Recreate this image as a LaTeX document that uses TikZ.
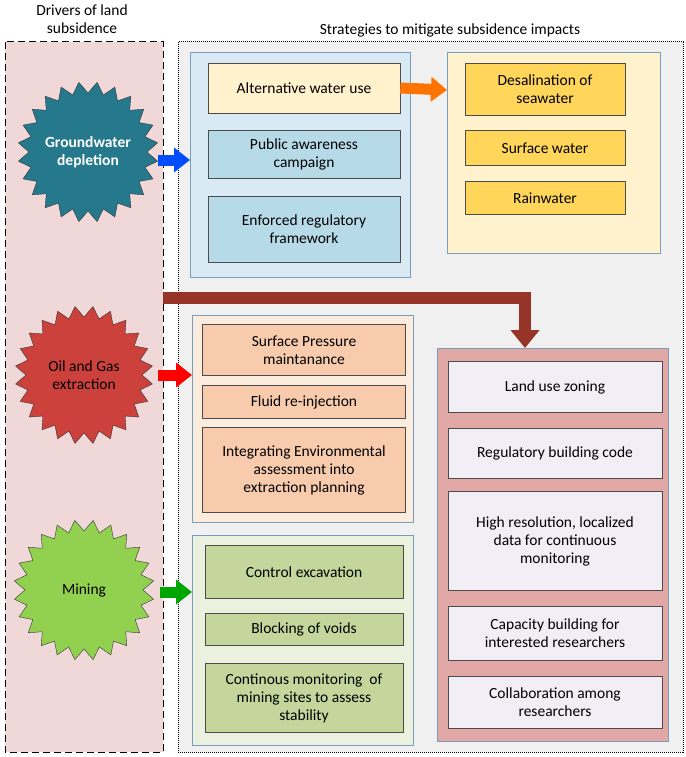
\documentclass[tikz,border=0pt]{standalone}
\usepackage{fontspec}
\setmainfont{Carlito}
\usetikzlibrary{shapes.geometric,arrows.meta}
\definecolor{drvbg}{RGB}{240,216,216}
\definecolor{stbg}{RGB}{240,240,240}
\definecolor{gwcol}{RGB}{38,120,140}
\definecolor{oilcol}{RGB}{205,65,60}
\definecolor{mincol}{RGB}{146,208,80}
\definecolor{bluebg}{RGB}{218,234,244}
\definecolor{bluebox}{RGB}{183,218,232}
\definecolor{cream}{RGB}{255,242,204}
\definecolor{gold}{RGB}{255,214,90}
\definecolor{peachbg}{RGB}{251,236,222}
\definecolor{peach}{RGB}{248,203,173}
\definecolor{greenbg}{RGB}{235,241,222}
\definecolor{greenbox}{RGB}{196,214,155}
\definecolor{rosebg}{RGB}{226,168,166}
\definecolor{lav}{RGB}{242,238,246}
\definecolor{darkred}{RGB}{150,52,40}
\definecolor{grpline}{RGB}{120,160,190}
\begin{document}
\begin{tikzpicture}[x=1pt,y=-1pt,
  font=\fontsize{15.5}{18}\selectfont,
  grp/.style={draw=grpline, line width=0.7pt},
  item/.style={draw=gray!60!black, line width=0.6pt, align=center},
  drv/.style={star, star points=24, star point ratio=0.84, draw=gray!40!black, minimum size=#1, align=center, inner sep=0pt},
  fat/.style={line width=11pt, -{Triangle[length=16pt,width=24pt]}},
]
\useasboundingbox (0,0) rectangle (685,757);

% frames
\draw[dash pattern=on 7pt off 4pt, line width=1pt, fill=drvbg] (5,42) rectangle (163,752);
\draw[densely dotted, line width=1pt, fill=stbg] (178,42) rectangle (683,752);
\node[align=center] (tdrv) at (82,19) {Drivers of land\\subsidence};
\node (tstr) at (450,30) {Strategies to mitigate subsidence impacts};

% drivers
\node[drv=118pt, fill=gwcol, text=white, font=\fontsize{15.5}{18}\selectfont\bfseries] (gw) at (88,152) {Groundwater\\depletion};
\node[drv=116pt, fill=oilcol] (oil) at (84,375) {Oil and Gas\\extraction};
\node[drv=118pt, fill=mincol] (min) at (84,590) {Mining};

% groundwater strategies
\draw[grp, fill=bluebg] (190,52) rectangle (410,277);
\coordinate (g1) at (190,160);
\node[item, fill=cream, minimum width=192pt, minimum height=50pt] (alt) at (304,88) {Alternative water use};
\node[item, fill=bluebox, minimum width=192pt, minimum height=48pt] (pub) at (304,154) {Public awareness\\campaign};
\node[item, fill=bluebox, minimum width=192pt, minimum height=66pt] (enf) at (304,229) {Enforced regulatory\\framework};

\draw[grp, fill=cream] (447,52) rectangle (660,253);
\coordinate (g2) at (447,90);
\node[item, fill=gold, minimum width=160pt, minimum height=52pt] (des) at (545,89) {Desalination of\\seawater};
\node[item, fill=gold, minimum width=160pt, minimum height=35pt] (sur) at (545,148) {Surface water};
\node[item, fill=gold, minimum width=160pt, minimum height=33pt] (rain) at (545,198) {Rainwater};

% oil strategies
\draw[grp, fill=peachbg] (192,315) rectangle (413,522);
\coordinate (g3) at (192,375);
\node[item, fill=peach, minimum width=203pt, minimum height=51pt] (spm) at (304,350) {Surface Pressure\\maintanance};
\node[item, fill=peach, minimum width=203pt, minimum height=33pt] (fri) at (304,402) {Fluid re-injection};
\node[item, fill=peach, minimum width=203pt, minimum height=85pt] (iea) at (304,470) {Integrating Environmental\\assessment into\\extraction planning};

% mining strategies
\draw[grp, fill=greenbg] (192,535) rectangle (413,745);
\coordinate (g4) at (192,592);
\node[item, fill=greenbox, minimum width=198pt, minimum height=53pt] (ctl) at (304,572) {Control excavation};
\node[item, fill=greenbox, minimum width=198pt, minimum height=32pt] (blk) at (304,629) {Blocking of voids};
\node[item, fill=greenbox, minimum width=198pt, minimum height=69pt] (cmo) at (304,698) {Continous monitoring\ \ of\\mining sites to assess\\stability};

% common strategies
\draw[grp, fill=rosebg] (437,348) rectangle (668,741);
\coordinate (g5) at (525,348);
\node[item, fill=lav, minimum width=214pt, minimum height=51pt] (luz) at (555,387) {Land use zoning};
\node[item, fill=lav, minimum width=214pt, minimum height=50pt] (rbc) at (555,453) {Regulatory building code};
\node[item, fill=lav, minimum width=214pt, minimum height=99pt] (hrd) at (555,541) {High resolution, localized\\data for continuous\\monitoring};
\node[item, fill=lav, minimum width=214pt, minimum height=54pt] (cap) at (555,633) {Capacity building for\\interested researchers};
\node[item, fill=lav, minimum width=214pt, minimum height=52pt] (col) at (555,702) {Collaboration among\\researchers};

% arrows
\coordinate (s1) at (158,160);
\coordinate (s3) at (158,375);
\coordinate (s4) at (160,592);
\draw[fat, draw=blue!70!cyan] (s1) -- (g1);
\draw[fat, draw=red] (s3) -- (g3);
\draw[fat, draw=green!65!black] (s4) -- (g4);
\draw[fat, draw=orange!90!red] (alt.east) -- (g2);
\coordinate (bend) at (163,298);
\draw[line width=12pt, draw=darkred, -{Triangle[length=18pt,width=28pt]}] (bend) -| (g5);
\end{tikzpicture}
\end{document}
